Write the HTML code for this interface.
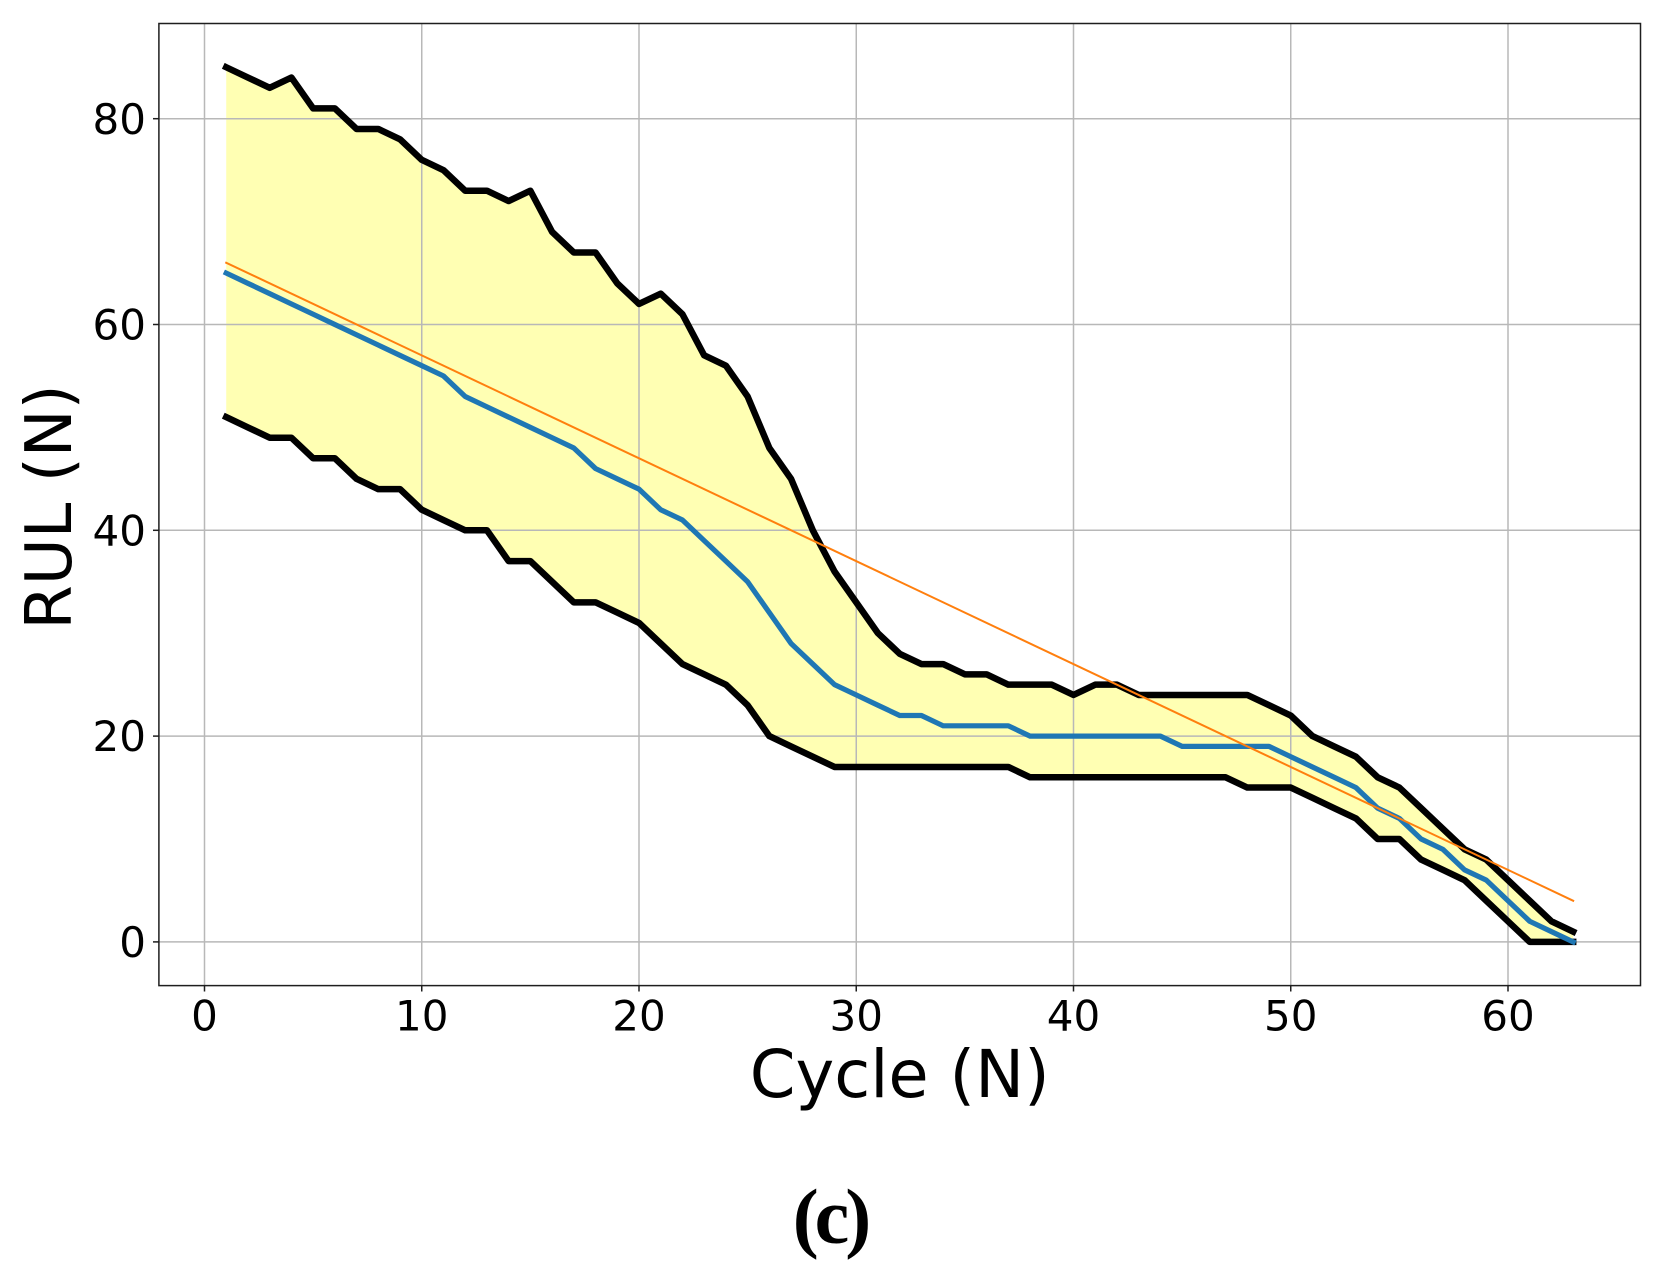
<!DOCTYPE html>
<html>
<head>
<meta charset="utf-8">
<style>
  html, body { margin: 0; padding: 0; background: #ffffff; }
  body { width: 1659px; height: 1275px; overflow: hidden; }
  svg { display: block; }
  .tick { font-family: "DejaVu Sans", "Liberation Sans", sans-serif; font-size: 42px; fill: #000; }
  .lab { font-family: "DejaVu Sans", "Liberation Sans", sans-serif; font-size: 64px; fill: #000; }
  .cap { font-family: "Liberation Serif", serif; font-weight: bold; font-size: 78px; fill: #000; letter-spacing: -4px; }
</style>
</head>
<body>
<svg width="1659" height="1275" viewBox="0 0 1659 1275" xmlns="http://www.w3.org/2000/svg">
  <rect x="0" y="0" width="1659" height="1275" fill="#ffffff"/>

  <g transform="translate(204.5,941.9) scale(21.725,-10.29)">
    <polygon fill="#ffffb3" stroke="none" points="
      1,85 2,84 3,83 4,84 5,81 6,81 7,79 8,79 9,78 10,76 11,75 12,73 13,73 14,72 15,73 16,69 17,67 18,67 19,64 20,62
      21,63 22,61 23,57 24,56 25,53 26,48 27,45 28,40 29,36 30,33 31,30 32,28 33,27 34,27 35,26 36,26 37,25 38,25 39,25 40,24
      41,25 42,25 43,24 44,24 45,24 46,24 47,24 48,24 49,23 50,22 51,20 52,19 53,18 54,16 55,15 56,13 57,11 58,9 59,8 60,6
      61,4 62,2 63,1
      63,0 62,0 61,0 60,2 59,4 58,6 57,7 56,8 55,10 54,10 53,12 52,13 51,14 50,15 49,15 48,15 47,16 46,16 45,16 44,16
      43,16 42,16 41,16 40,16 39,16 38,16 37,17 36,17 35,17 34,17 33,17 32,17 31,17 30,17 29,17 28,18 27,19 26,20 25,23
      24,25 23,26 22,27 21,29 20,31 19,32 18,33 17,33 16,35 15,37 14,37 13,40 12,40 11,41 10,42 9,44 8,44 7,45 6,47 5,47
      4,49 3,49 2,50 1,51"/>
  </g>

  <g stroke="#b8b8b8" stroke-width="1.5" fill="none">
    <line x1="204.5" y1="23.5" x2="204.5" y2="985.6"/>
    <line x1="421.75" y1="23.5" x2="421.75" y2="985.6"/>
    <line x1="639" y1="23.5" x2="639" y2="985.6"/>
    <line x1="856.25" y1="23.5" x2="856.25" y2="985.6"/>
    <line x1="1073.5" y1="23.5" x2="1073.5" y2="985.6"/>
    <line x1="1290.75" y1="23.5" x2="1290.75" y2="985.6"/>
    <line x1="1508" y1="23.5" x2="1508" y2="985.6"/>
    <line x1="158.9" y1="941.9" x2="1640.5" y2="941.9"/>
    <line x1="158.9" y1="736.1" x2="1640.5" y2="736.1"/>
    <line x1="158.9" y1="530.3" x2="1640.5" y2="530.3"/>
    <line x1="158.9" y1="324.5" x2="1640.5" y2="324.5"/>
    <line x1="158.9" y1="118.7" x2="1640.5" y2="118.7"/>
  </g>

  <g transform="translate(204.5,941.9) scale(21.725,-10.29)" fill="none">
    <polyline stroke="#000" stroke-width="6.5" stroke-linejoin="round" stroke-linecap="square" vector-effect="non-scaling-stroke" points="
      1,85 2,84 3,83 4,84 5,81 6,81 7,79 8,79 9,78 10,76 11,75 12,73 13,73 14,72 15,73 16,69 17,67 18,67 19,64 20,62
      21,63 22,61 23,57 24,56 25,53 26,48 27,45 28,40 29,36 30,33 31,30 32,28 33,27 34,27 35,26 36,26 37,25 38,25 39,25 40,24
      41,25 42,25 43,24 44,24 45,24 46,24 47,24 48,24 49,23 50,22 51,20 52,19 53,18 54,16 55,15 56,13 57,11 58,9 59,8 60,6
      61,4 62,2 63,1"/>
    <polyline stroke="#000" stroke-width="6.5" stroke-linejoin="round" stroke-linecap="square" vector-effect="non-scaling-stroke" points="
      1,51 2,50 3,49 4,49 5,47 6,47 7,45 8,44 9,44 10,42 11,41 12,40 13,40 14,37 15,37 16,35 17,33 18,33 19,32 20,31
      21,29 22,27 23,26 24,25 25,23 26,20 27,19 28,18 29,17 30,17 31,17 32,17 33,17 34,17 35,17 36,17 37,17 38,16 39,16 40,16
      41,16 42,16 43,16 44,16 45,16 46,16 47,16 48,15 49,15 50,15 51,14 52,13 53,12 54,10 55,10 56,8 57,7 58,6 59,4 60,2
      61,0 62,0 63,0"/>
    <polyline stroke="#1f77b4" stroke-width="5.2" stroke-linejoin="round" stroke-linecap="square" vector-effect="non-scaling-stroke" points="
      1,65 2,64 3,63 4,62 5,61 6,60 7,59 8,58 9,57 10,56 11,55 12,53 13,52 14,51 15,50 16,49 17,48 18,46 19,45 20,44
      21,42 22,41 23,39 24,37 25,35 26,32 27,29 28,27 29,25 30,24 31,23 32,22 33,22 34,21 35,21 36,21 37,21 38,20 39,20 40,20
      41,20 42,20 43,20 44,20 45,19 46,19 47,19 48,19 49,19 50,18 51,17 52,16 53,15 54,13 55,12 56,10 57,9 58,7 59,6 60,4
      61,2 62,1 63,0"/>
    <line x1="1" y1="66" x2="63" y2="4" stroke="#ff7f0e" stroke-width="2" stroke-linecap="square" vector-effect="non-scaling-stroke"/>
  </g>

  <rect x="158.9" y="23.5" width="1481.6" height="962.1" fill="none" stroke="#1e1e1e" stroke-width="1.5"/>

  <g stroke="#1e1e1e" stroke-width="1.5">
    <line x1="204.5" y1="985.6" x2="204.5" y2="991.5"/>
    <line x1="421.75" y1="985.6" x2="421.75" y2="991.5"/>
    <line x1="639" y1="985.6" x2="639" y2="991.5"/>
    <line x1="856.25" y1="985.6" x2="856.25" y2="991.5"/>
    <line x1="1073.5" y1="985.6" x2="1073.5" y2="991.5"/>
    <line x1="1290.75" y1="985.6" x2="1290.75" y2="991.5"/>
    <line x1="1508" y1="985.6" x2="1508" y2="991.5"/>
    <line x1="153" y1="941.9" x2="158.9" y2="941.9"/>
    <line x1="153" y1="736.1" x2="158.9" y2="736.1"/>
    <line x1="153" y1="530.3" x2="158.9" y2="530.3"/>
    <line x1="153" y1="324.5" x2="158.9" y2="324.5"/>
    <line x1="153" y1="118.7" x2="158.9" y2="118.7"/>
  </g>

  <g class="tick" text-anchor="middle">
    <text x="204.5" y="1030.5">0</text>
    <text x="421.75" y="1030.5">10</text>
    <text x="639" y="1030.5">20</text>
    <text x="856.25" y="1030.5">30</text>
    <text x="1073.5" y="1030.5">40</text>
    <text x="1290.75" y="1030.5">50</text>
    <text x="1508" y="1030.5">60</text>
  </g>

  <g class="tick" text-anchor="end">
    <text x="146" y="957">0</text>
    <text x="146" y="751.2">20</text>
    <text x="146" y="545.4">40</text>
    <text x="146" y="339.6">60</text>
    <text x="146" y="133.8">80</text>
  </g>

  <text class="lab" x="899.7" y="1097" text-anchor="middle" style="font-size:65.5px">Cycle (N)</text>
  <text class="lab" x="71" y="507" text-anchor="middle" transform="rotate(-90 71 507)">RUL (N)</text>

  <text class="cap" x="830" y="1243" text-anchor="middle">(c)</text>
</svg>
</body>
</html>
